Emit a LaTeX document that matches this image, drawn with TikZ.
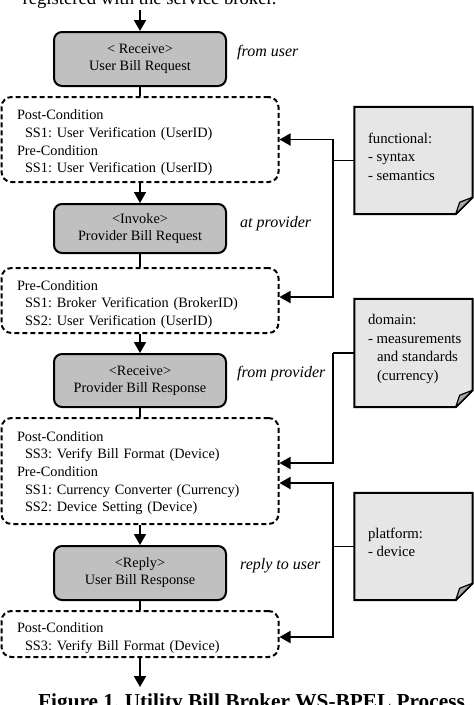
\documentclass[tikz,border=0pt]{standalone}
\usepackage{fontspec}
\setmainfont{Liberation Serif}
\usetikzlibrary{arrows.meta}
\definecolor{boxgray}{HTML}{C0C0C0}
\definecolor{notegray}{HTML}{E6E6E6}
\definecolor{foldgray}{HTML}{A8A8A8}
\frenchspacing
\begin{document}
\begin{tikzpicture}[x=1pt,y=-1pt,
  act/.style={draw, line width=2pt, rounded corners=8pt, fill=boxgray, minimum width=172pt, align=center, font=\fontsize{14.3}{17}\selectfont, inner sep=0pt},
  cond/.style={draw, line width=2pt, dash pattern=on 5pt off 3pt, rounded corners=10pt, minimum width=277pt, inner sep=0pt},
  condtext/.style={align=left, text width=246pt, inner sep=0pt, font=\fontsize{14.3}{17.7}\selectfont},
  lab/.style={font=\fontsize{16}{19}\selectfont\itshape, anchor=base west, inner sep=0pt},
  notebox/.style={minimum width=118pt, inner sep=0pt},
  noteshape/.style={draw, line width=2pt, fill=notegray, line join=miter},
  foldshape/.style={draw, line width=1.2pt, fill=foldgray, line join=round},
  notetext/.style={align=left, anchor=west, inner sep=0pt, font=\fontsize{14.8}{18.5}\selectfont},
  flow/.style={line width=1.8pt, -{Triangle[length=11pt,width=12pt]}},
  link/.style={line width=1.8pt}
]
\useasboundingbox (0,0) rectangle (474,705);
\clip (0,0) rectangle (474,705);

% texts cut by the frame, as in the reference
\node[font=\fontsize{18.7}{22}\selectfont, anchor=base, inner sep=0pt] (toptext) at (149.5,4) {registered with the service broker.};
\node[font=\fontsize{21.3}{25}\selectfont\bfseries, anchor=base, inner sep=0pt] (caption) at (251.5,708) {Figure 1. Utility Bill Broker WS-BPEL Process};

% activities
\node[act, minimum height=54pt] (b1) at (140,59) {< Receive>\\User Bill Request};
\node[act, minimum height=49pt] (b2) at (140,228.5) {<Invoke>\\Provider Bill Request};
\node[act, minimum height=53pt] (b3) at (140,380.5) {<Receive>\\Provider Bill Response};
\node[act, minimum height=54pt] (b4) at (140,573) {<Reply>\\User Bill Response};

% labels
\node[lab] (l1) at (237,56) {from user};
\node[lab] (l2) at (240,227) {at provider};
\node[lab] (l3) at (237,377) {from provider};
\node[lab] (l4) at (240,569) {reply to user};

% conditions
\node[cond, minimum height=85pt] (d1) at (140,139.5) {};
\node[condtext] (t1) at ([yshift=-3.5pt]d1.center) {Post-Condition\\\hspace*{8pt}SS1: User Verification (UserID)\\Pre-Condition\\\hspace*{8pt}SS1: User Verification (UserID)};
\node[cond, minimum height=65pt] (d2) at (140,300.5) {};
\node[condtext] (t2) at ([yshift=-4pt]d2.center) {Pre-Condition\\\hspace*{8pt}SS1: Broker Verification (BrokerID)\\\hspace*{8pt}SS2: User Verification (UserID)};
\node[cond, minimum height=106pt] (d3) at (140,471) {};
\node[condtext] (t3) at ([yshift=-2pt]d3.center) {Post-Condition\\\hspace*{8pt}SS3: Verify Bill Format (Device)\\Pre-Condition\\\hspace*{8pt}SS1: Currency Converter (Currency)\\\hspace*{8pt}SS2: Device Setting (Device)};
\node[cond, minimum height=46pt] (d4) at (140,634) {};
\node[condtext] (t4) at ([yshift=-4pt]d4.center) {Post-Condition\\\hspace*{8pt}SS3: Verify Bill Format (Device)};

% notes
\node[notebox, minimum height=107pt] (func) at (413.5,160.5) {};
\node[notebox, minimum height=108pt] (dom) at (413.5,353) {};
\node[notebox, minimum height=107pt] (plat) at (413.5,546.5) {};
\foreach \n in {func,dom,plat}{
  \draw[noteshape] (\n.north west) -- (\n.north east) -- ([yshift=17pt]\n.south east) -- ([xshift=-17pt]\n.south east) -- (\n.south west) -- cycle;
  \draw[foldshape] ([yshift=17pt]\n.south east) -- ([xshift=-17pt]\n.south east) -- ([xshift=-13pt,yshift=12pt]\n.south east) -- cycle;
}
\node[notetext] (funct) at ([xshift=13.5pt,yshift=4pt]func.west) {functional:\\- syntax\\- semantics};
\node[notetext] (domt) at ([xshift=13.5pt,yshift=4pt]dom.west) {domain:\\- measurements\\\hspace*{9pt}and standards\\\hspace*{9pt}(currency)};
\node[notetext] (platt) at ([xshift=13.5pt,yshift=4pt]plat.west) {platform:\\- device};

% main flow
\coordinate (start) at (140,10);
\coordinate (finish) at (140,687);
\draw[flow] (start) -- (b1);
\draw[link] (b1) -- (d1);
\draw[flow] (d1) -- (b2);
\draw[link] (b2) -- (d2);
\draw[flow] (d2) -- (b3);
\draw[link] (b3) -- (d3);
\draw[flow] (d3) -- (b4);
\draw[link] (b4) -- (d4);
\draw[flow] (d4) -- (finish);

% note connectors
\coordinate (fj) at (333,160.5);
\coordinate (dj) at (333,353);
\coordinate (pj) at (333,546.5);
\draw[link] (func.west) -- (fj);
\draw[flow] (fj) |- (d1.east);
\draw[flow] (fj) |- ([yshift=3.5pt]d2.east);
\draw[link] (dom.west) -- (dj);
\draw[flow] (dj) |- ([yshift=8pt]d3.east);
\draw[link] (plat.west) -- (pj);
\draw[flow] (pj) |- ([yshift=-12pt]d3.east);
\draw[flow] (pj) |- ([yshift=-3pt]d4.east);
\end{tikzpicture}
\end{document}
